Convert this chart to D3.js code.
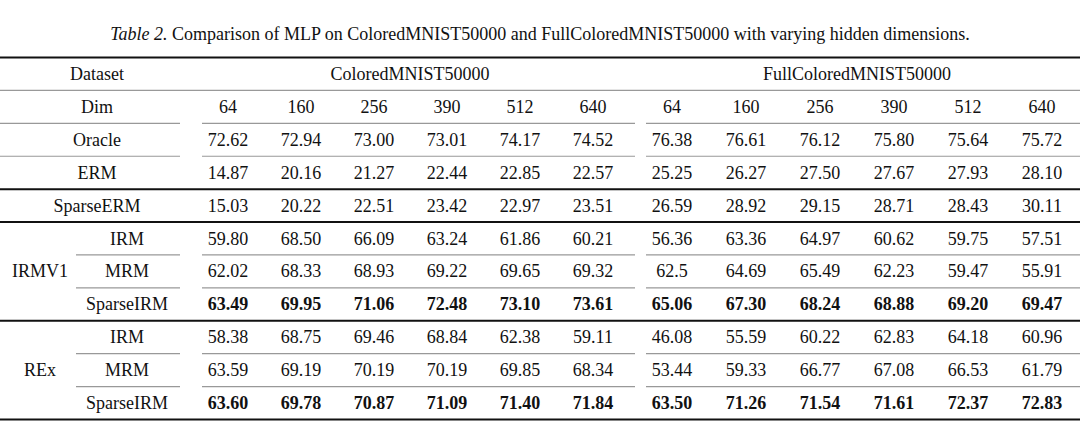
<!DOCTYPE html>
<html><head><meta charset="utf-8">
<script src="https://cdn.jsdelivr.net/npm/d3@7"></script>
<style>body{margin:0;background:#fff}svg text{font-family:"Liberation Serif","Times New Roman",Tinos,"DejaVu Serif",serif !important;fill:#111}</style>
</head><body><svg id="c" width="1080" height="446" font-family="Liberation Serif, Times New Roman, DejaVu Serif, serif"></svg>
<script>
const datasets = ["ColoredMNIST50000", "FullColoredMNIST50000"];
const dims = ["64","160","256","390","512","640"];
const groups = ["", "", "", "IRMV1", "IRMV1", "IRMV1", "REx", "REx", "REx"];
const methods = ["Oracle","ERM","SparseERM","IRM","MRM","SparseIRM","IRM","MRM","SparseIRM"];
const values = [
 ["72.62","72.94","73.00","73.01","74.17","74.52","76.38","76.61","76.12","75.80","75.64","75.72"],
 ["14.87","20.16","21.27","22.44","22.85","22.57","25.25","26.27","27.50","27.67","27.93","28.10"],
 ["15.03","20.22","22.51","23.42","22.97","23.51","26.59","28.92","29.15","28.71","28.43","30.11"],
 ["59.80","68.50","66.09","63.24","61.86","60.21","56.36","63.36","64.97","60.62","59.75","57.51"],
 ["62.02","68.33","68.93","69.22","69.65","69.32","62.5","64.69","65.49","62.23","59.47","55.91"],
 ["63.49","69.95","71.06","72.48","73.10","73.61","65.06","67.30","68.24","68.88","69.20","69.47"],
 ["58.38","68.75","69.46","68.84","62.38","59.11","46.08","55.59","60.22","62.83","64.18","60.96"],
 ["63.59","69.19","70.19","70.19","69.85","68.34","53.44","59.33","66.77","67.08","66.53","61.79"],
 ["63.60","69.78","70.87","71.09","71.40","71.84","63.50","71.26","71.54","71.61","72.37","72.83"]
];
const boldRows = [5, 8];

const svg = d3.select("#c");
const cols = d3.range(12);
const xA = d3.scaleLinear().domain([0,5]).range([228,593]);
const xB = d3.scaleLinear().domain([0,5]).range([672,1042]);
const colX = i => i < 6 ? xA(i) : xB(i-6);
const rowY = d3.scaleLinear().domain([0,10]).range([74,403]);
const fs = 18;

const t = svg.append("text").attr("x",540).attr("y",40).attr("text-anchor","middle").style("font-size","18px");
t.append("tspan").style("font-style","italic").text("Table 2.");
t.append("tspan").text(" Comparison of MLP on ColoredMNIST50000 and FullColoredMNIST50000 with varying hidden dimensions.");

function txt(x,y,s,bold){svg.append("text").attr("x",x).attr("y",y+6).attr("text-anchor","middle").style("font-size",fs+"px").style("font-weight",bold?"bold":"normal").text(s);}

txt(97,rowY(0),"Dataset");
txt(410,rowY(0),datasets[0]);
txt(857,rowY(0),datasets[1]);
txt(97,rowY(1),"Dim");
cols.forEach(i=>txt(colX(i),rowY(1),dims[i%6]));
methods.forEach((m,r)=>{
  const y=rowY(r+2);
  txt(groups[r]?127:97,y,m);
  values[r].forEach((v,i)=>txt(colX(i),y,v,boldRows.includes(r)));
});
txt(40,rowY(6),"IRMV1");
txt(40,rowY(9),"REx");

function line(x1,x2,y,w,c){svg.append("line").attr("x1",x1).attr("x2",x2).attr("y1",y).attr("y2",y).attr("stroke",c).attr("stroke-width",w);}
const half = (rowY(1)-rowY(0))/2;
line(0,1080,rowY(0)-half,2,"#111");
line(0,1080,rowY(0)+half,1.2,"#999");
[1,2].forEach(r=>{const y=rowY(r)+half;line(0,180,y,1.2,"#999");line(202,635,y,1.2,"#999");line(646,1080,y,1.2,"#999");});
[3,4,7].forEach(r=>line(0,1080,rowY(r)+half,2,"#111"));
[5,6,8,9].forEach(r=>{const y=rowY(r)+half;line(76,180,y,1.2,"#999");line(202,635,y,1.2,"#999");line(646,1080,y,1.2,"#999");});
line(0,1080,rowY(10)+half,2,"#111");
</script></body></html>
